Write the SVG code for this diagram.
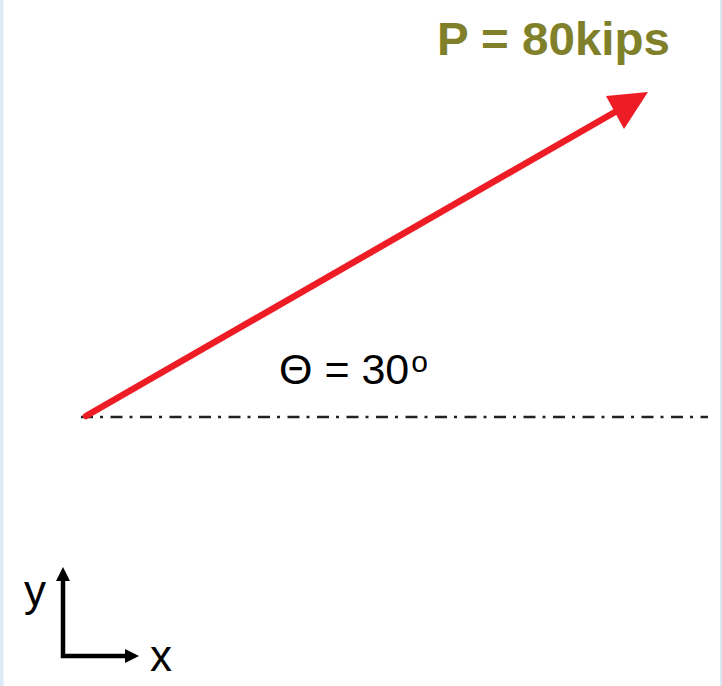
<svg xmlns="http://www.w3.org/2000/svg" width="722" height="686" viewBox="0 0 722 686">
<style>
.lbl{font-family:"Liberation Sans",Arial,sans-serif}
.axis{stroke:#000;stroke-width:4.5;fill:none}
</style>
<rect x="0" y="0" width="722" height="686" fill="#fff"/>
<rect x="0" y="0" width="3.5" height="686" fill="#dbeaf5"/>
<rect x="720" y="0" width="2" height="686" fill="#dbeaf5"/>
<g id="connectors">
  <line x1="81" y1="417" x2="708" y2="417" stroke="#222" stroke-width="2.5" stroke-dasharray="12 7 3 7.5"/>
  <line x1="86" y1="416" x2="622" y2="108" stroke="#ee1c25" stroke-width="6.5" stroke-linecap="round"/>
  <polygon points="648,92 606,96 624,129" fill="#ee1c25"/>
</g>
<g id="load-label">
  <text class="lbl" x="437" y="55" font-size="47" font-weight="bold" fill="#80802a" textLength="233" lengthAdjust="spacingAndGlyphs">P = 80kips</text>
</g>
<g id="angle-label">
  <text class="lbl" x="279" y="384" font-size="43" fill="#000">Θ = 30<tspan font-size="30" dx="2" dy="-12">o</tspan></text>
</g>
<g id="axes">
  <polyline class="axis" points="63,578 63,656 128,656"/>
  <polygon points="63,567 56,581 70,581" fill="#000"/>
  <polygon points="139,656 125,649 125,663" fill="#000"/>
  <text class="lbl" x="24" y="606" font-size="44" fill="#000">y</text>
  <text class="lbl" x="150" y="671" font-size="44" fill="#000">x</text>
</g>
</svg>
